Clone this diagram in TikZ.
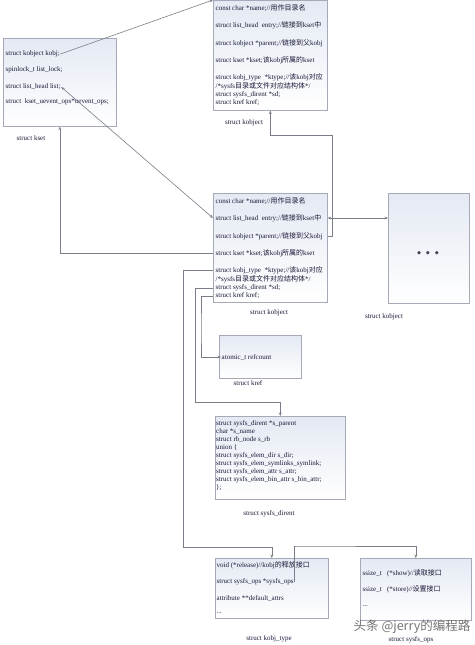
\documentclass[tikz,border=0pt]{standalone}
\usepackage{fontspec}
\setmainfont{Liberation Serif}
\newfontfamily\cjk{Noto Sans CJK SC}
\usetikzlibrary{arrows.meta}
\newcommand\zhs[1]{{\cjk #1}}
\newcommand\fsz{\fontsize{7}{8}\selectfont}
\definecolor{txtc}{RGB}{25,25,55}
\definecolor{boxline}{RGB}{165,170,182}
\definecolor{boxtop}{RGB}{228,233,243}
\definecolor{wire}{RGB}{120,125,135}
\tikzset{
  box/.style={draw=boxline, line width=0.6pt, top color=boxtop, bottom color=white, inner sep=0pt, anchor=north west},
  txt/.style={anchor=west, inner sep=0.5pt, font=\fsz, text=txtc},
  lbl/.style={inner sep=0pt, font=\fsz, text=txtc},
  conn/.style={draw=wire, line width=0.6pt},
  arr/.style={-{Stealth[length=3.5pt,width=2.8pt]}},
  darr/.style={{Stealth[length=3.5pt,width=2.8pt]}-{Stealth[length=3.5pt,width=2.8pt]}}
}
\newcommand\kobjlines[2]{%
  \node[txt] (#1-name)   at (215,#2+8)   {const char *name;//\zhs{用作目录名}};
  \node[txt] (#1-entry)  at (215,#2+25)  {struct list\_head\ \ entry;//\zhs{链接到}kset\zhs{中}};
  \node[txt] (#1-parent) at (215,#2+43)  {struct kobject *parent;//\zhs{链接到父}kobj};
  \node[txt] (#1-kset)   at (215,#2+60)  {struct kset *kset;\zhs{该}kobj\zhs{所属的}kset};
  \node[txt] (#1-ktype)  at (215,#2+77)  {struct kobj\_type\ \ *ktype;//\zhs{该}kobj\zhs{对应}};
  \node[txt] (#1-cmt)    at (215,#2+86)  {/*sysfs\zhs{目录或文件对应结构体}*/};
  \node[txt] (#1-sd)     at (215,#2+95)  {struct sysfs\_dirent *sd;};
  \node[txt] (#1-kref)   at (215,#2+103) {struct kref kref;};
}
\begin{document}
\begin{tikzpicture}[x=1pt,y=-1pt]
\useasboundingbox (0,0) rectangle (474,645);

% boxes
\node[box, minimum width=113pt, minimum height=88pt]  (kset)  at (3,38) {};
\node[box, minimum width=114pt, minimum height=110pt] (kobjA) at (213,0) {};
\node[box, minimum width=114pt, minimum height=109pt] (kobjB) at (213,193) {};
\node[box, minimum width=81pt,  minimum height=110pt] (kobjC) at (388,193) {};
\node[box, minimum width=82pt,  minimum height=43pt]  (kref)  at (219,335) {};
\node[box, minimum width=130pt, minimum height=83pt]  (dirent) at (215,416) {};
\node[box, minimum width=113pt, minimum height=60pt]  (ktype) at (215,558) {};
\node[box, minimum width=111pt, minimum height=62pt]  (ops)   at (360,558) {};

% kset contents
\node[txt] (kset-kobj) at (5,54)  {struct kobject kobj;};
\node[txt] (kset-lock) at (5,70)  {spinlock\_t list\_lock;};
\node[txt] (kset-list) at (5,87)  {struct list\_head list;};
\node[txt] (kset-ops)  at (5,102) {struct\ \ kset\_uevent\_ops*uevent\_ops;};
\node[lbl] (kset-lbl)  at (31,138) {struct kset};

% kobjects
\kobjlines{kA}{0}
\node[lbl] (kA-lbl) at (244,123) {struct kobject};
\kobjlines{kB}{193}
\node[lbl] (kB-lbl) at (269,313) {struct kobject};
\node[inner sep=0pt, font=\fontsize{13}{13}\selectfont, text={rgb,255:red,60;green,65;blue,85}] (kC-dots) at (428,255) {\textbullet\,\,\textbullet\,\,\textbullet};
\node[lbl] (kC-lbl) at (384,317) {struct kobject};

% kref
\node[txt] (kref-cnt) at (221,357) {atomic\_t refcount};
\node[lbl] (kref-lbl) at (248,383) {struct kref};

% sysfs_dirent
\node[anchor=north west, inner sep=0pt, font=\fsz, text=txtc, align=left] (dirent-txt) at (216,420) {%
struct sysfs\_dirent *s\_parent\\
char *s\_name\\
struct rb\_node s\_rb\\
union \{\\
struct sysfs\_elem\_dir s\_dir;\\
struct sysfs\_elem\_symlinks\_symlink;\\
struct sysfs\_elem\_attr s\_attr;\\
struct sysfs\_elem\_bin\_attr s\_bin\_attr;\\
\};};
\node[lbl] (dirent-lbl) at (269,514) {struct sysfs\_dirent};

% kobj_type
\node[txt] (kt-rel)   at (216,565) {void (*release)//kobj\zhs{的释放接口}};
\node[txt] (kt-ops)   at (216,582) {struct sysfs\_ops *sysfs\_ops};
\node[txt] (kt-attr)  at (216,598) {attribute **default\_attrs};
\node[txt] (kt-dots)  at (216,613) {...};
\node[lbl] (kt-lbl)   at (269,639) {struct kobj\_type};

% sysfs_ops
\node[txt] (ops-show)  at (362,573) {ssize\_t\ \ \ (*show)//\zhs{读取接口}};
\node[txt] (ops-store) at (362,589) {ssize\_t\ \ \ (*store)//\zhs{设置接口}};
\node[txt] (ops-dots)  at (362,606) {...};
\node[lbl] (ops-lbl)   at (411,640) {struct sysfs\_ops};

% watermark
\node[inner sep=0pt, font=\cjk\fontsize{12.5}{13}\selectfont, text=black!55] (wm) at (412,627) {头条 @jerry的编程路};

% coordinates for bends
\coordinate (c-par)  at (332,135);
\coordinate (c-kref) at (201,330);
\coordinate (c-sd)   at (195,402);
\coordinate (c-kt)   at (183,547);
\coordinate (c-ops)  at (296,546);

% connectors
\draw[conn,arr]  (kset-kobj.east) -- (kobjA.north west);
\draw[conn,darr] (kobjB.west |- kB-entry) -- (kset-list.east);
\draw[conn,arr]  (kobjB.west |- kB-kset) -| (kset.south);
\draw[conn,arr]  (kobjB.east |- kB-parent) -| (c-par) -| (kobjA.south);
\draw[conn,darr] (kobjB.east |- kB-entry) -- (kobjC.west |- kB-entry);
\draw[conn,arr]  (kobjB.west |- kB-kref) -| (c-kref) |- (kref-cnt.west);
\draw[conn,arr]  (kobjB.west |- kB-sd) -| (c-sd) -| (dirent.north);
\draw[conn,arr]  (kobjB.west |- kB-ktype) -| (c-kt) -| (ktype.north);
\draw[conn,arr]  (kt-ops.east) |- (c-ops) -| (ops.north);
\end{tikzpicture}
\end{document}
